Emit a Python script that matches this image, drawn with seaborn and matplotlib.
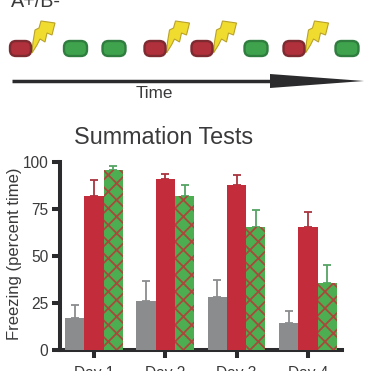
import matplotlib
matplotlib.use("Agg")
import matplotlib.pyplot as plt
import pandas as pd
import seaborn as sns
from matplotlib.patches import FancyBboxPatch, Polygon

days = ["Day 1", "Day 2", "Day 3", "Day 4"]
groups = ["Control", "A", "AB"]
control = [17, 26, 28, 14]
red_mean = [82, 91, 87.5, 65.5]
green_mean = [95.5, 81.5, 65.5, 35.5]
control_err = [7, 10.5, 9, 6.5]
red_err = [8.5, 2.5, 5.5, 7.5]
green_err = [2, 6, 9, 9.5]
trials = ["A", "B", "B", "A", "A", "B", "A", "B"]

GRAY = "#8a8c8e"
RED = "#c22c3b"
GREEN = "#4cae50"
DARK = "#2b2b2d"
TXT = "#3a3a3c"
W = 371


def schematic(fig):
    ov = fig.add_axes([0, 0, 1, 1], zorder=5)
    ov.set_xlim(0, W)
    ov.set_ylim(W, 0)
    ov.axis("off")
    ov.patch.set_alpha(0)
    centers = [20.5, 75.5, 114, 155, 202, 256, 294, 347]
    bolt = [(0, 0), (1, -11), (3, -23), (7, -25), (9, -32), (23, -30),
            (20, -18), (15, -20), (13, -11), (8, -14), (5, -8)]
    for cx, kind in zip(centers, trials):
        if kind == "A":
            face, edge, half = "#b0303c", "#7d2a30", 10.5
        else:
            face, edge, half = "#3fa34d", "#2f7d3f", 11.5
        ov.add_patch(FancyBboxPatch((cx - half, 41), 2 * half, 15, boxstyle="round,pad=0,rounding_size=6",
                                    fc=face, ec=edge, lw=1.7, zorder=3))
        if kind == "A":
            x0 = cx + 11.5
            ov.add_patch(Polygon([(x0 + a, 53 + b) for a, b in bolt], closed=True,
                                 fc="#f0dc2e", ec="#b9a22a", lw=0.8, zorder=2))
    ov.plot([12, 275], [81, 81], color=DARK, lw=2.5, solid_capstyle="butt")
    ov.add_patch(Polygon([(270, 74), (364, 81), (270, 88)], closed=True, fc=DARK, ec="none"))
    ov.text(154, 94, "Time", ha="center", va="center", fontsize=12.3, color=TXT)
    ov.text(11, 7, "A+/B-", ha="left", va="baseline", fontsize=14.2, color=TXT)


def plot():
    sns.set_theme(style="ticks")
    plt.rcParams["font.family"] = ["Liberation Sans", "DejaVu Sans"]
    plt.rcParams["hatch.linewidth"] = 1.3

    fig = plt.figure(figsize=(3.71, 3.71), dpi=100)
    ax = fig.add_axes([60 / W, (W - 349.7) / W, 282 / W, 188 / W])

    df = pd.DataFrame({
        "day": days * 3,
        "group": [g for g in groups for _ in days],
        "freezing": control + red_mean + green_mean,
    })
    sns.barplot(data=df, x="day", y="freezing", hue="group", hue_order=groups,
                palette=[GRAY, RED, GREEN], width=0.81, saturation=1, gap=0,
                legend=False, ax=ax, zorder=3)

    errs = control_err + red_err + green_err
    ecolors = [GRAY] * 4 + ["#a8343f"] * 4 + ["#55a465"] * 4
    bars = ax.patches[:12]
    for i, (bar, err, col) in enumerate(zip(bars, errs, ecolors)):
        bar.set_linewidth(0)
        if i >= 8:
            bar.set_hatch("xx")
            bar.set_edgecolor("#a8493c")
        ax.errorbar(bar.get_x() + bar.get_width() / 2, bar.get_height(), yerr=[[0], [err]],
                    color=col, lw=1.3, capsize=2.6, capthick=1.3, zorder=2)

    ax.set_xlim(-0.477, 3.478)
    ax.set_ylim(0, 100)
    ax.set_yticks([0, 25, 50, 75, 100])
    ax.set_xlabel("")
    ax.set_ylabel("Freezing (percent time)", fontsize=12, color=TXT)
    ax.yaxis.set_label_coords(-0.135, 0.512)
    ax.tick_params(axis="both", width=2.9, length=6, color=DARK, labelsize=11.2, labelcolor=TXT, pad=2.5)
    ax.tick_params(axis="x", pad=6)
    sns.despine(ax=ax)
    ax.spines["left"].set_linewidth(2.9)
    ax.spines["bottom"].set_linewidth(2.9)
    ax.spines["left"].set_color(DARK)
    ax.spines["bottom"].set_color(DARK)
    fig.text(164 / W, 1 - 137 / W, "Summation Tests", ha="center", va="center", fontsize=16.8, color=TXT)

    schematic(fig)
    fig.savefig("out.png", dpi=100)


if __name__ == "__main__":
    plot()
